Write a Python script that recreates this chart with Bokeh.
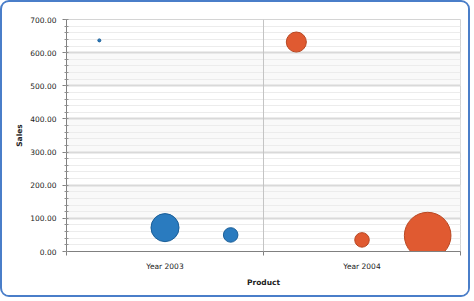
from bokeh.plotting import figure
from bokeh.models import (Range1d, FactorRange, LinearAxis, CategoricalAxis, FixedTicker,
                          SingleIntervalTicker, PrintfTickFormatter, Span,
                          ColumnDataSource, Grid)
from bokeh.embed import file_html
from bokeh.resources import INLINE

categories = ["Year 2003", "Year 2004"]
sales_2003 = [637, 72, 50]
bubble_2003 = [6, 56, 29]
sales_2004 = [632, 35, 48]
bubble_2004 = [40, 29, 93]
y_ticks_step = 100

FONT = "DejaVu Sans"
max_bubble = max(bubble_2003 + bubble_2004)
MAX_D = 46.6
B = 2  # outer border width

p = figure(width=474 - 2 * B, height=301 - 2 * B,
           x_range=FactorRange(*categories, range_padding=0, factor_padding=0),
           y_range=Range1d(0, 700),
           x_axis_location=None, y_axis_location=None,
           output_backend="svg", toolbar_location=None,
           min_border_left=66 - B, min_border_right=14 - B,
           min_border_top=19 - B, min_border_bottom=50 - B)
p.styles = {"border": f"{B}px solid #4a7ec9", "border-radius": "9px", "overflow": "hidden"}
p.xgrid.visible = False
p.ygrid.visible = False
p.background_fill_color = "white"
p.border_fill_color = "white"
p.outline_line_color = "#d4d4d4"

# y axis
yax = LinearAxis(ticker=SingleIntervalTicker(interval=y_ticks_step, num_minor_ticks=5),
                 formatter=PrintfTickFormatter(format="%.2f"),
                 axis_label="Sales",
                 axis_line_color="#808080", major_tick_line_color="#808080",
                 minor_tick_line_color="#909090",
                 major_tick_out=4, major_tick_in=0, minor_tick_out=2, minor_tick_in=2,
                 major_label_standoff=6,
                 major_label_text_font=FONT, major_label_text_font_size="7.5px",
                 major_label_text_color="#222222",
                 axis_label_text_font=FONT, axis_label_text_font_size="7.5px",
                 axis_label_text_font_style="bold", axis_label_text_color="#222222",
                 axis_label_standoff=3)
p.add_layout(yax, "left")

grid = Grid(dimension=1, ticker=yax.ticker,
            grid_line_color="#d9d9d9", grid_line_width=2,
            minor_grid_line_color="#ececec", minor_grid_line_width=1,
            band_fill_color="#f9f9f9", band_fill_alpha=1.0)
p.add_layout(grid, "center")

# x axis: boundary ticks + category labels
tax = LinearAxis(ticker=FixedTicker(ticks=list(range(len(categories) + 1))),
                 major_label_text_font_size="0px", major_label_standoff=0,
                 axis_line_color="#808080", major_tick_line_color="#808080",
                 major_tick_out=4, major_tick_in=0, minor_tick_out=0, minor_tick_in=0)
tax.major_label_overrides = {i: "" for i in range(len(categories) + 1)}
p.add_layout(tax, "below")

cax = CategoricalAxis(axis_line_color=None, major_tick_line_color=None,
                      minor_tick_line_color=None,
                      axis_label="Product",
                      major_label_standoff=0,
                      major_label_text_font=FONT, major_label_text_font_size="7.5px",
                      major_label_text_color="#222222",
                      axis_label_text_font=FONT, axis_label_text_font_size="7.5px",
                      axis_label_text_font_style="bold", axis_label_text_color="#222222",
                      axis_label_standoff=4)
p.add_layout(cax, "below")

p.add_layout(Span(location=1, dimension="height", line_color="#c4c4c4", line_width=1))

def make_source(cat, values, bubbles):
    n = len(values)
    xs = [[cat, (i - (n - 1) / 2) / n] for i in range(n)]
    sizes = [MAX_D * b / max_bubble for b in bubbles]
    return ColumnDataSource(dict(x=xs, y=values, size=sizes))

s1 = make_source(categories[0], sales_2003, bubble_2003)
s2 = make_source(categories[1], sales_2004, bubble_2004)

p.scatter("x", "y", size="size", source=s1, fill_color="#2a7bbf", line_color="#1c5f98", line_width=1)
p.scatter("x", "y", size="size", source=s2, fill_color="#e05a31", line_color="#b84722", line_width=1)

open("out.html", "w").write(file_html(p, INLINE))
